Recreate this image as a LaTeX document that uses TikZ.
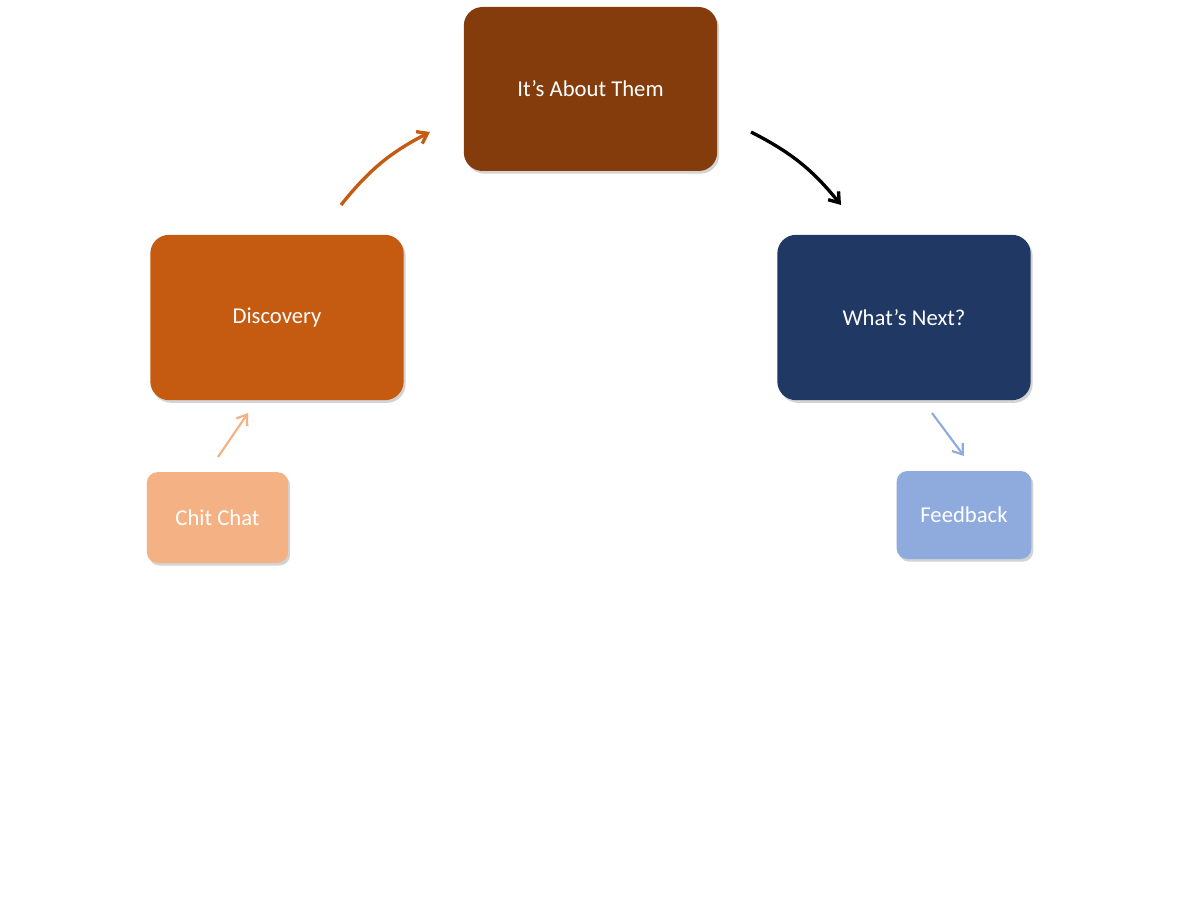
\documentclass[tikz,border=0pt]{standalone}
\usepackage{fontspec}
\setmainfont{Carlito}
\usetikzlibrary{shadows,arrows.meta}
\definecolor{brownC}{HTML}{843C0C}
\definecolor{orangeC}{HTML}{C55A11}
\definecolor{navyC}{HTML}{203864}
\definecolor{peachC}{HTML}{F4B183}
\definecolor{blueC}{HTML}{8FAADC}
\begin{document}
\begin{tikzpicture}[x=0.75pt,y=-0.75pt,
  box/.style={rounded corners=14pt,draw=none,text=white,font=\fontsize{17}{20}\selectfont,
    drop shadow={shadow xshift=1.5pt,shadow yshift=-2pt,opacity=0.35}},
  arr/.style={line width=#1,-{Straight Barb[length=7pt,width=10pt]}}]
\useasboundingbox (0,0) rectangle (1181,920);
\node[box,fill=brownC,minimum width=190pt,minimum height=123pt] (a) at (590.5,89) {It's About Them};
\node[box,fill=orangeC,minimum width=190pt,minimum height=124pt] (d) at (277,317.5) {Discovery};
\node[box,fill=navyC,minimum width=190pt,minimum height=124pt] (w) at (904,317.5) {What's Next?};
\node[box,fill=peachC,rounded corners=8pt,minimum width=106pt,minimum height=68pt] (c) at (217.5,517.5) {Chit Chat};
\node[box,fill=blueC,rounded corners=8pt,minimum width=101pt,minimum height=66pt] (f) at (964,515) {Feedback};
\coordinate (o1) at (341,205); \coordinate (o2) at (430,132);
\coordinate (b1) at (751,132); \coordinate (b2) at (841,205);
\coordinate (p1) at (218,457); \coordinate (p2) at (248,413);
\coordinate (l1) at (932,413); \coordinate (l2) at (964,456);
\draw[arr=2.5pt,draw=orangeC] (o1) to[bend left=12] (o2);
\draw[arr=2.5pt,draw=black] (b1) to[bend left=12] (b2);
\draw[arr=1.6pt,draw=peachC] (p1) -- (p2);
\draw[arr=1.6pt,draw=blueC] (l1) -- (l2);
\end{tikzpicture}
\end{document}
